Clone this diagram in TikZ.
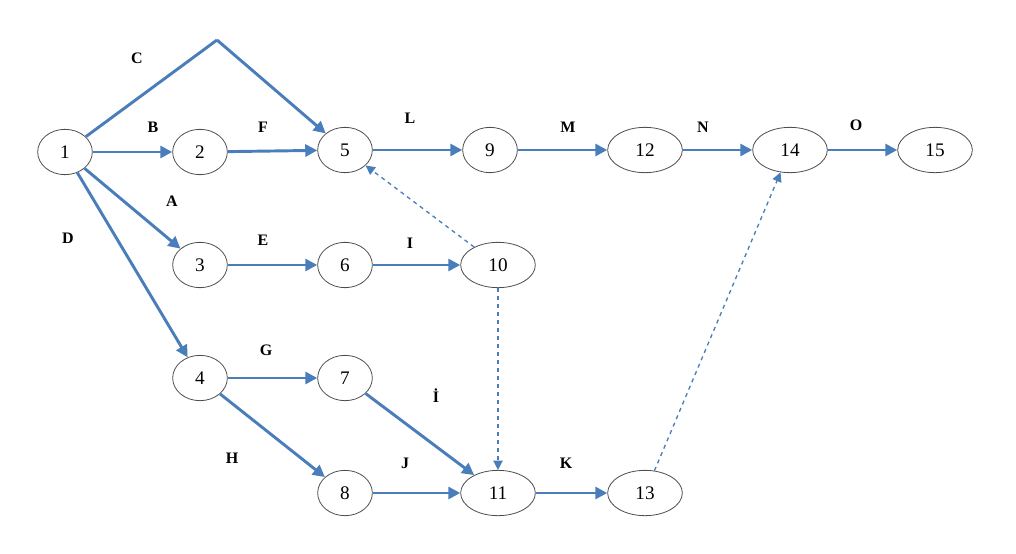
\documentclass[tikz,border=0pt]{standalone}
\usepackage{fontspec}
\setmainfont{Liberation Serif}
\usetikzlibrary{shapes.geometric,arrows.meta}
\begin{document}
\begin{tikzpicture}[x=0.75pt,y=-0.75pt,
  ev/.style={ellipse,draw=black!70,line width=0.6pt,minimum width=41pt,minimum height=34pt,inner sep=0pt,font=\Large},
  evw/.style={ev,minimum width=56pt},
  act/.style={draw={rgb,255:red,74;green,126;blue,187},line width=2.2pt,-{Triangle[length=9pt,width=9pt]}},
  dum/.style={draw={rgb,255:red,74;green,126;blue,187},line width=1pt,dashed,-{Triangle[length=7pt,width=7pt]}},
  lab/.style={font=\large\bfseries}]
\useasboundingbox (0,0) rectangle (1016,553);
\node[ev] (n1) at (65,152) {1};
\node[ev] (n2) at (200,152) {2};
\node[ev] (n5) at (345,150) {5};
\node[ev] (n9) at (490,150) {9};
\node[evw] (n12) at (645,150) {12};
\node[evw] (n14) at (790,150) {14};
\node[evw] (n15) at (935,150) {15};
\node[ev] (n3) at (200,265) {3};
\node[ev] (n6) at (345,265) {6};
\node[evw] (n10) at (498,265) {10};
\node[ev] (n4) at (200,378) {4};
\node[ev] (n7) at (345,378) {7};
\node[ev] (n8) at (345,493) {8};
\node[evw] (n11) at (498,493) {11};
\node[evw] (n13) at (645,493) {13};
\coordinate (top) at (217,40);
\draw[act,-] (n1) -- (top);
\draw[act] (top) -- (n5);
\draw[act] (n1) -- (n2);
\draw[act] (n2) -- (n5);
\draw[act] (n5) -- (n9);
\draw[act] (n9) -- (n12);
\draw[act] (n12) -- (n14);
\draw[act] (n14) -- (n15);
\draw[act] (n1) -- (n3);
\draw[act] (n1) -- (n4);
\draw[act] (n3) -- (n6);
\draw[act] (n6) -- (n10);
\draw[act] (n4) -- (n7);
\draw[act] (n4) -- (n8);
\draw[act] (n7) -- (n11);
\draw[act] (n8) -- (n11);
\draw[act] (n11) -- (n13);
\draw[dum] (n10) -- (n5);
\draw[dum] (n10) -- (n11);
\draw[dum] (n13) -- (n14);
\node[lab] (lC) at (137,58) {C};
\node[lab] (lB) at (153,127) {B};
\node[lab] (lF) at (263,127) {F};
\node[lab] (lL) at (410,118) {L};
\node[lab] (lM) at (568,127) {M};
\node[lab] (lN) at (703,127) {N};
\node[lab] (lO) at (856,125) {O};
\node[lab] (lA) at (172,201) {A};
\node[lab] (lD) at (68,238) {D};
\node[lab] (lE) at (263,240) {E};
\node[lab] (lI) at (410,243) {I};
\node[lab] (lG) at (266,350) {G};
\node[lab] (lI2) at (436,396) {İ};
\node[lab] (lH) at (232,458) {H};
\node[lab] (lJ) at (405,463) {J};
\node[lab] (lK) at (566,463) {K};
\end{tikzpicture}
\end{document}
